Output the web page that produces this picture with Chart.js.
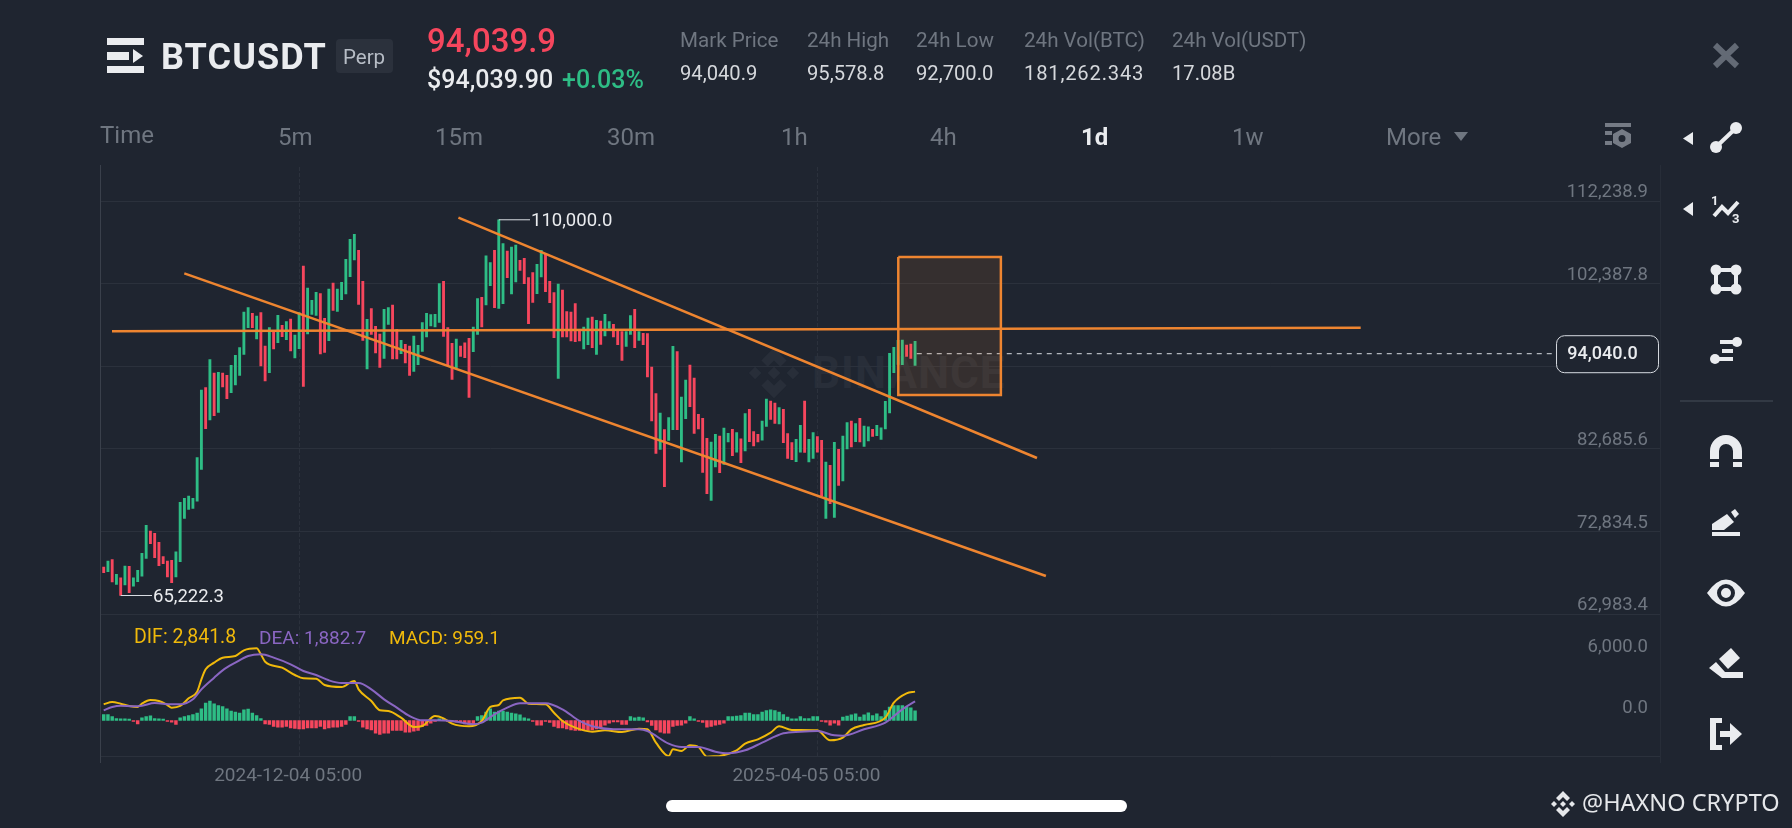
<!DOCTYPE html>
<html>
<head>
<meta charset="utf-8">
<title>BTCUSDT Perp</title>
<script src="https://cdn.jsdelivr.net/npm/chart.js@4/dist/chart.umd.js"></script>
<style>
    html, body { margin: 0; padding: 0; background: #1f2530; width: 1792px; height: 828px; overflow: hidden; }
    body { position: relative; font-family: Roboto, sans-serif; }
    canvas { position: absolute; left: 0; top: 0; }
    .t { position: absolute; white-space: nowrap; line-height: 1; transform: translateY(-50%); }
    .head { font-size: 20.6px; color: #6f7680; }
    .val { font-size: 20.2px; color: #d5d8dc; }
    .tab { font-size: 24px; color: #6f7680; }
    #art { position: absolute; left: 0; top: 0; }
</style>
</head>
<body>

<div class="t" style="left:812px;top:373px;font-size:44px;font-weight:700;color:#282e39;letter-spacing:1px">BINANCE</div>
<svg style="position:absolute;left:0;top:0" width="1792" height="828">
    <g fill="#282e39" transform="translate(774,373) scale(2.1)">
        <path d="M0-12 6-6 3-3 0-6-3-3-6-6Z"/><path d="M-3 3 0 6 3 3 6 6 0 12-6 6Z"/>
        <path d="M0-3 3 0 0 3-3 0Z"/><path d="M-9-3-6 0-9 3-12 0Z"/><path d="M9-3 12 0 9 3 6 0Z"/>
    </g>
</svg>

<canvas id="main" width="1792" height="828"></canvas>
<canvas id="macd" width="1792" height="828"></canvas>

<svg id="art" width="1792" height="828">
    <!-- pane borders -->
    <line x1="100.5" y1="165" x2="100.5" y2="763" stroke="#3a404b" stroke-width="1"/>
    <line x1="1660.5" y1="165" x2="1660.5" y2="763" stroke="#272d38" stroke-width="1"/>
    <!-- menu -->
    <g fill="#eaecef">
        <rect x="107" y="38" width="37" height="7"/>
        <rect x="107" y="52" width="22" height="8"/>
        <path d="M133 49 143 56 133 63Z"/>
        <rect x="107" y="66" width="37" height="7"/>
    </g>
    <rect x="336" y="39" width="57" height="34" rx="4" fill="#2b313c"/>
    <path d="M1454 132H1468L1461 141Z" fill="#6f7680"/>
    <!-- close -->
    <path d="M1715 45 1737 66M1737 45 1715 66" stroke="#636a75" stroke-width="6" fill="none"/>
    <!-- settings -->
    <g fill="#757b85">
        <rect x="1605" y="123" width="26" height="4"/>
        <rect x="1605" y="131" width="7" height="4"/>
        <rect x="1605" y="141" width="7" height="4"/>
        <path fill-rule="evenodd" d="M1622 129 1631 134V143L1622 148 1613 143V134ZM1622 135A3.5 3.5 0 1 0 1622 142 3.5 3.5 0 1 0 1622 135Z"/>
    </g>
    <!-- toolbar -->
    <g fill="#eaecef" stroke="none">
        <path d="M1693 132V145L1683 138.500Z"/>
        <path d="M1693 202V216L1683 209Z"/>
        <line x1="1716" y1="147" x2="1736" y2="128" stroke="#eaecef" stroke-width="4"/>
        <circle cx="1736" cy="128" r="6"/><circle cx="1716" cy="147" r="6"/>

        <path d="M1714 216 1722 207 1728 213 1738 202" fill="none" stroke="#eaecef" stroke-width="4"/>

        <rect x="1716" y="270" width="20" height="19" fill="none" stroke="#eaecef" stroke-width="4"/>
        <circle cx="1716" cy="270" r="5.500"/><circle cx="1736" cy="270" r="5.500"/>
        <circle cx="1716" cy="289" r="5.500"/><circle cx="1736" cy="289" r="5.500"/>

        <circle cx="1737" cy="342" r="5"/><circle cx="1715" cy="359" r="5"/>
        <rect x="1720" y="340" width="15" height="4"/><rect x="1722" y="349" width="11" height="4"/><rect x="1718" y="357" width="15" height="4"/>

        <path d="M1714.500 459V451A11.500 11.500 0 0 1 1737.500 451V459" fill="none" stroke="#eaecef" stroke-width="9"/>
        <rect x="1710" y="462" width="9" height="5"/><rect x="1733" y="462" width="9" height="5"/>

        <rect x="1712" y="532" width="28" height="4"/>
        <path d="M1712 530V524L1727 514 1734 522 1724 530Z"/>
        <path d="M1731 512 1735 509 1739 514 1735 518Z"/>

        <path fill-rule="evenodd" d="M1707 593Q1726 566 1745 593 1726 620 1707 593ZM1726 584A9 9 0 1 0 1726 602 9 9 0 1 0 1726 584ZM1726 588A5 5 0 1 1 1726 598 5 5 0 1 1 1726 588Z"/>

        <path d="M1731 648 1740 658 1728 669 1719 659Z"/>
        <path d="M1716 662 1725 672H1743V678H1722L1709 668Z"/>

        <path d="M1710 718H1722V723H1716V745H1722V750H1710Z"/>
        <rect x="1720" y="731" width="12" height="6"/>
        <path d="M1730 723 1742 734 1730 745Z"/>
    </g>
    <line x1="1680" y1="401" x2="1773" y2="401" stroke="#3a404b" stroke-width="1.500"/>
    <rect x="666" y="800" width="461" height="12" rx="6" fill="#ffffff"/>
    <g fill="#e5e7ea" transform="translate(1563,804)">
        <path d="M0-13 7-6 4-3 0-7-4-3-7-6Z"/><path d="M-4 3 0 7 4 3 7 6 0 13-7 6Z"/>
        <path d="M0-3 3 0 0 3-3 0Z"/><path d="M-9-3-6 0-9 3-12 0Z"/><path d="M9-3 12 0 9 3 6 0Z"/>
    </g>
</svg>

<div class="t" style="left:161px;top:57px;font-size:36px;font-weight:700;color:#eaecef;letter-spacing:1.100px">BTCUSDT</div>
<div class="t" style="left:343px;top:57px;font-size:20.500px;color:#b7bdc6">Perp</div>
<div class="t" style="left:427px;top:40px;font-size:33px;font-weight:500;color:#f6465d">94,039.9</div>
<div class="t" style="left:427px;top:79px;font-size:25px;font-weight:500;color:#eaecef">$94,039.90</div>
<div class="t" style="left:562px;top:79px;font-size:25px;font-weight:500;color:#2ebd85">+0.03%</div>

<div class="t head" style="left:680px;top:40px">Mark Price</div>
<div class="t val" style="left:680px;top:73px">94,040.9</div>
<div class="t head" style="left:807px;top:40px">24h High</div>
<div class="t val" style="left:807px;top:73px">95,578.8</div>
<div class="t head" style="left:916px;top:40px">24h Low</div>
<div class="t val" style="left:916px;top:73px">92,700.0</div>
<div class="t head" style="left:1024px;top:40px">24h Vol(BTC)</div>
<div class="t val" style="left:1024px;top:73px;letter-spacing:.8px">181,262.343</div>
<div class="t head" style="left:1172px;top:40px">24h Vol(USDT)</div>
<div class="t val" style="left:1172px;top:73px">17.08B</div>

<div class="t tab" style="left:100px;top:135px">Time</div>
<div class="t tab" style="left:278px;top:137px">5m</div>
<div class="t tab" style="left:435px;top:137px">15m</div>
<div class="t tab" style="left:607px;top:137px">30m</div>
<div class="t tab" style="left:781px;top:137px">1h</div>
<div class="t tab" style="left:930px;top:137px">4h</div>
<div class="t tab" style="left:1081px;top:137px;color:#eaecef;font-weight:700">1d</div>
<div class="t tab" style="left:1232px;top:137px">1w</div>
<div class="t tab" style="left:1386px;top:137px">More</div>

<div class="t" style="left:134px;top:637px;font-size:19.500px;color:#f0b90b">DIF: 2,841.8</div>
<div class="t" style="left:259px;top:637px;font-size:19px;color:#8a66c2">DEA: 1,882.7</div>
<div class="t" style="left:389px;top:637px;font-size:19px;color:#f0b90b">MACD: 959.1</div>

<div class="t" style="left:1711px;top:200px;font-size:13px;font-weight:700;color:#eaecef">1</div>
<div class="t" style="left:1732px;top:218px;font-size:13px;font-weight:700;color:#eaecef">3</div>
<div class="t" style="left:1582px;top:803px;font-size:23.500px;color:#e5e7ea;font-family:'Noto Sans'">@HAXNO CRYPTO</div>

<script>
// candle ranges, one pair per daily bar
const candleHigh = [
    68620, 69330, 69490, 67740, 67340, 68740, 68700, 67340, 68220, 70250,
    73580, 72910, 72630, 71560, 69850, 69330, 69410, 70440, 76320, 76800,
    77080, 76800, 81650, 89710, 89990, 93330, 91740, 91820, 91740, 91460,
    92650, 93840, 94760, 99010, 99530, 98850, 98530, 98930, 94960, 97140,
    96590, 98610, 97420, 97860, 98180, 96270, 98930, 104490, 101870, 100400,
    101350, 101200, 98260, 101750, 102470, 101750, 102550, 105290, 107670, 108270,
    106360, 102670, 98140, 99410, 97300, 96390, 99330, 99530, 99840, 96940,
    95630, 95160, 94960, 96150, 95040, 97740, 98850, 98690, 98730, 102390,
    102670, 97140, 95280, 95790, 94960, 95350, 95870, 97220, 100600, 100760,
    105690, 104890, 106360, 110000, 107150, 106280, 106760, 107000, 105170, 105410,
    103100, 103700, 104690, 106360, 105880, 102670, 101310, 102350, 101630, 99050,
    99010, 100000, 96750, 97220, 98300, 98410, 98020, 97940, 98730, 97860,
    97540, 96750, 96670, 96670, 98570, 99330, 96670, 96470, 96430, 92450,
    89280, 86970, 84990, 86420, 94920, 94280, 88880, 90910, 92690, 91140,
    86810, 86340, 83950, 83520, 84430, 84230, 85180, 84550, 85030, 84630,
    83910, 86890, 87410, 84750, 84430, 86020, 88640, 88400, 88160, 87610,
    87410, 84510, 83440, 83830, 85500, 88400, 83830, 84630, 84150, 83710,
    81130, 80730, 83480, 82640, 84230, 85820, 86020, 85700, 86340, 85420,
    85340, 85030, 85500, 85220, 88360, 94080, 94800, 95630, 95670, 95080,
    95200, 95510
]
const candleLow = [
    67940, 68060, 66830, 66550, 65222.3, 66470, 65560, 66350, 66870, 67540,
    69650, 71400, 69730, 68780, 69010, 67430, 66750, 67430, 69250, 74420,
    75490, 75610, 76480, 80260, 85100, 86140, 86650, 87050, 90070, 88680,
    89390, 90310, 91460, 93960, 97140, 97140, 95790, 92570, 90790, 91780,
    94600, 95350, 96070, 95710, 94360, 93530, 94640, 90150, 96390, 98730,
    98610, 94000, 94200, 95590, 99210, 99090, 100480, 101160, 103220, 105210,
    99920, 95630, 92220, 96350, 94120, 92420, 93490, 97540, 93410, 93410,
    94040, 92930, 91460, 91940, 92730, 94320, 96030, 97340, 97220, 97780,
    96110, 92690, 90980, 92380, 93730, 93570, 88840, 94280, 96350, 97220,
    99840, 102150, 99530, 99450, 100000, 103100, 101160, 102590, 103980, 102390,
    97620, 100160, 101200, 103180, 101430, 100120, 95950, 91100, 96030, 96030,
    95550, 95470, 95550, 94600, 95120, 94760, 93960, 95160, 96150, 97060,
    96030, 95120, 93250, 94920, 96350, 94760, 95630, 95120, 91260, 86020,
    82160, 82640, 78190, 83710, 84990, 84990, 81130, 86300, 87730, 84550,
    85070, 79900, 77360, 76560, 80540, 79860, 80850, 83520, 81890, 82320,
    81050, 82440, 83560, 83040, 83520, 83750, 85380, 86220, 85740, 85660,
    83440, 81570, 81410, 81170, 82320, 82280, 81130, 81570, 82320, 77080,
    74420, 76170, 74540, 78350, 78870, 82680, 82920, 83560, 83520, 83000,
    83640, 84190, 84270, 83830, 85070, 86970, 91780, 92770, 92730, 93730,
    93490, 92650
]
const candleDir = 'RGRGRGRGGG' + 'GRRRRRRGGG' + 'GGGGRGRGRR' + 'GGGGGRGRRG' + 'RGRGRGGRGG' +
    'GRRGRGGGGG' + 'RRGRRRGGRR' + 'GRRGGGGGGG' + 'RRRGRRRGGR' + 'GGRGGRGGRR' +
    'RRGGRRRGRR' + 'RRRGGRGRGG' + 'RRRGGRGRRR' + 'RGRGGRGGRR' + 'RRRGGRGGRG' +
    'RGRRRGGRRG' + 'RRRGGRGGRR' + 'GRGRGGRGRG' + 'GRGGGGGGGR' + 'RG'

const macdHist = [
    590, 590, 390, 200, 160, 160, 130, -100, -330, 260,
    390, 460, 200, 160, 130, -100, -160, -390, 260, 390,
    490, 590, 720, 1150, 1710, 1900, 1640, 1480, 1380, 1150,
    920, 820, 720, 1050, 1120, 720, 490, 200, -330, -390,
    -590, -660, -660, -590, -720, -790, -820, -820, -720, -720,
    -720, -590, -820, -720, -660, -660, -590, -390, 390, 390,
    -100, -660, -820, -920, -1250, -1380, -1250, -1250, -980, -980,
    -980, -1150, -1150, -1050, -980, -590, -490, -260, -100, 160,
    130, -100, -130, -160, -160, -330, -390, -390, 390, 490,
    820, 1150, 820, 920, 920, 820, 720, 660, 560, 260,
    160, -100, -460, -460, -100, -200, -590, -720, -720, -820,
    -920, -980, -980, -980, -980, -920, -820, -720, -460, -260,
    -130, -130, -390, -390, 390, 260, 330, 260, -130, -490,
    -920, -1150, -1250, -1250, -590, -490, -460, -260, 390, 160,
    -100, -200, -660, -590, -460, -390, -260, 390, 390, 430,
    490, 720, 720, 590, 590, 820, 980, 1050, 980, 820,
    590, 330, 160, 160, 390, 200, 200, 390, 390, -100,
    -160, -460, -260, -460, 330, 430, 560, 660, 330, 560,
    750, 490, 660, 390, 980, 1310, 1480, 1480, 1480, 1310,
    1250, 959.1
]

const difIndex = [0, 2, 4, 6, 8, 9, 11, 13, 15, 16, 18, 20, 22, 23, 24, 26, 28, 31, 33, 36, 37, 38, 42, 45, 47, 50, 52, 56, 59, 60, 63, 65, 67, 70, 73, 75, 78, 80, 82, 86, 89, 91, 93, 94, 98, 100, 104, 106, 108, 111, 115, 118, 122, 126, 128, 130, 133, 134, 136, 138, 140, 142, 145, 149, 151, 154, 157, 159, 162, 164, 168, 171, 174, 176, 179, 184, 186, 189, 191]
const difValue = [1591, 1821, 1657, 1427, 1329, 1657, 2017, 1919, 1525, 1263, 1427, 2181, 2837, 4051, 5035, 5691, 6183, 6347, 6905, 7101, 6511, 5789, 5199, 4477, 4149, 4117, 3493, 3297, 3887, 3067, 1919, 1001, 935, 279, -639, -541, 443, 213, -311, -574, -49, 1329, 1525, 1985, 2247, 1657, 1591, 771, -49, -705, -1099, -967, -1131, -803, -869, -2181, -3493, -2837, -3001, -2443, -2607, -3559, -3493, -2935, -2279, -1853, -1197, -574, -935, -935, -967, -1951, -1689, -869, -443, 279, 1755, 2673, 2841.8]

const deaIndex = [0, 2, 4, 7, 9, 12, 16, 18, 21, 23, 26, 28, 31, 34, 37, 40, 44, 47, 50, 53, 56, 60, 63, 66, 69, 72, 75, 78, 82, 87, 89, 92, 95, 98, 104, 108, 112, 115, 120, 126, 128, 133, 136, 140, 144, 147, 151, 155, 160, 164, 168, 172, 174, 179, 184, 188, 191]
const deaValue = [1001, 1329, 1460, 1394, 1460, 1722, 1591, 1591, 2083, 3067, 4215, 4936, 5691, 6347, 6511, 6183, 5527, 4871, 4477, 3953, 3690, 3690, 3067, 2083, 1263, 443, 17, 17, -49, -377, -213, 607, 1263, 1689, 1689, 1099, -49, -574, -869, -869, -1033, -2279, -2607, -2607, -3067, -3231, -2935, -2181, -1263, -1099, -1033, -1459, -1492, -869, -213, 1099, 1882.7]

const priceTicks = [112238.9, 102387.8, 92536.7, 82685.6, 72834.5, 62983.4]
const macdTicks = [6000, 0]
const timeTickIndex = [46, 168]
const timeTickLabels = ['2024-12-04 05:00', '2025-04-05 05:00']

// drawn trend lines and target box, in bar index and price
const levelLine = [[1.95, 96710], [295.9, 97120]]
const lowerChannel = [[18.97, 103620], [221.8, 67550]]
const upperChannel = [[83.5, 110250], [219.7, 81610]]
const targetBox = [[187.05, 105570], [211.2, 105570], [211.2, 89120], [187.05, 89120], [187.05, 105570]]

const lastPrice = 94040
const lastPriceEnd = 342
const highIndex = 93
const highPrice = 110000
const lowIndex = 4
const lowPrice = 65222.3

const bg = '#1f2530'
const gridColor = '#2b313c'
const labelColor = '#6f7680'
const up = '#2ebd85'
const down = '#f6465d'
const orange = '#ee8530'

Chart.defaults.font.family = 'Roboto'
Chart.defaults.animation = false

const format = v => v.toLocaleString('en-US', { minimumFractionDigits: 1, maximumFractionDigits: 1 })
const toPoints = pairs => pairs.map(p => ({ x: p[0], y: p[1] }))

const xAxis = (tickOptions, axisHeight) => ({
    type: 'linear',
    min: -0.753,
    max: 366.36,
    offset: false,
    afterBuildTicks: axis => { axis.ticks = timeTickIndex.map(value => ({ value })) },
    afterFit: axis => { axis.height = axisHeight },
    grid: { color: gridColor, drawTicks: false, offset: false },
    border: { color: gridColor, dash: [4, 2] },
    ticks: tickOptions
})

const yAxis = (min, max, tickValues, drawGrid, labelOffset) => ({
    position: 'right',
    min,
    max,
    afterBuildTicks: axis => { axis.ticks = tickValues.map(value => ({ value })) },
    afterFit: axis => { axis.width = 0 },
    grid: { display: drawGrid, color: gridColor, drawTicks: false },
    border: { display: false },
    ticks: {
        mirror: true,
        padding: -12,
        labelOffset,
        color: labelColor,
        font: { size: 18.5 },
        autoSkip: false,
        callback: format
    }
})

const drawingLine = (pairs, extra) => ({
    type: 'line',
    data: toPoints(pairs),
    borderColor: orange,
    borderWidth: 2.5,
    pointRadius: 0,
    order: 0,
    ...extra
})

const flag = (ctx, px, py, lineTo, text) => {
    ctx.strokeStyle = '#d8dce2'
    ctx.lineWidth = 1
    ctx.beginPath()
    ctx.moveTo(px, py)
    ctx.lineTo(lineTo, py)
    ctx.stroke()
    ctx.fillStyle = '#eaecef'
    ctx.font = '18.5px Roboto'
    ctx.textAlign = 'left'
    ctx.textBaseline = 'middle'
    ctx.fillText(text, lineTo + 1, py + 2)
}

const overlay = {
    id: 'overlay',
    afterDraw: chart => {
        const { ctx, scales: { x, y } } = chart

        flag(ctx, x.getPixelForValue(highIndex), y.getPixelForValue(highPrice), 530, format(highPrice))
        flag(ctx, x.getPixelForValue(lowIndex), y.getPixelForValue(lowPrice), 152, format(lowPrice))

        const py = y.getPixelForValue(lastPrice)
        ctx.beginPath()
        ctx.roundRect(x.getPixelForValue(lastPriceEnd), py - 18, 102, 37, 8)
        ctx.fillStyle = bg
        ctx.fill()
        ctx.strokeStyle = '#d8dce2'
        ctx.lineWidth = 1
        ctx.stroke()
        ctx.fillStyle = '#eaecef'
        ctx.font = '500 18px Roboto'
        ctx.textAlign = 'center'
        ctx.textBaseline = 'middle'
        ctx.fillText(format(lastPrice), x.getPixelForValue(lastPriceEnd) + 46, py + 1)
    }
}

new Chart(document.getElementById('main'), {
    type: 'bar',
    data: {
        datasets: [
            {
                data: candleHigh.map((high, i) => ({ x: i, y: [candleLow[i], high] })),
                backgroundColor: candleHigh.map((_, i) => candleDir[i] === 'G' ? up : down),
                barThickness: 2.2,
                order: 1
            },
            drawingLine(targetBox, { fill: 'shape', backgroundColor: 'rgba(238,133,48,0.11)' }),
            drawingLine(levelLine),
            drawingLine(lowerChannel),
            drawingLine(upperChannel),
            drawingLine([[191.4, lastPrice], [lastPriceEnd, lastPrice]], {
                borderColor: '#d8dce2',
                borderWidth: 1,
                borderDash: [5, 5]
            })
        ]
    },
    options: {
        responsive: false,
        devicePixelRatio: 1,
        layout: { padding: { left: 100.5, right: 132, top: 167, bottom: 213.7 } },
        plugins: { legend: { display: false }, tooltip: { enabled: false } },
        scales: {
            x: xAxis({ display: false }, 0),
            y: yAxis(62983.4, 116291, priceTicks, true, -8.5)
        }
    },
    plugins: [overlay]
})

new Chart(document.getElementById('macd'), {
    type: 'bar',
    data: {
        datasets: [
            {
                data: macdHist.map((v, i) => ({ x: i, y: v })),
                backgroundColor: macdHist.map(v => v >= 0 ? up : down),
                barThickness: 2.8,
                order: 2
            },
            {
                type: 'line',
                data: difIndex.map((x, i) => ({ x, y: difValue[i] })),
                borderColor: '#f0b90b',
                borderWidth: 2,
                pointRadius: 0,
                cubicInterpolationMode: 'monotone',
                order: 1
            },
            {
                type: 'line',
                data: deaIndex.map((x, i) => ({ x, y: deaValue[i] })),
                borderColor: '#8a66c2',
                borderWidth: 2,
                pointRadius: 0,
                cubicInterpolationMode: 'monotone',
                order: 0
            }
        ]
    },
    options: {
        responsive: false,
        devicePixelRatio: 1,
        layout: { padding: { left: 100.5, right: 132, top: 614.3, bottom: 31.7 } },
        plugins: { legend: { display: false }, tooltip: { enabled: false } },
        scales: {
            x: xAxis({
                padding: 9,
                labelOffset: -11,
                color: labelColor,
                font: { size: 19 },
                maxRotation: 0,
                autoSkip: false,
                callback: value => timeTickLabels[timeTickIndex.indexOf(value)]
            }, 40),
            y: yAxis(-3523, 10450, macdTicks, false, -12)
        }
    }
})
</script>
</body>
</html>
